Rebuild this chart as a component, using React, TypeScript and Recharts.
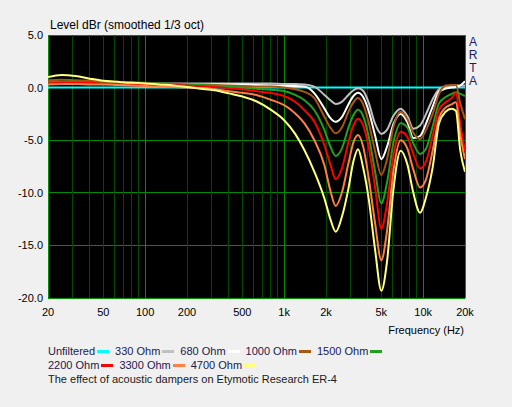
import { LineChart, Line, XAxis, YAxis, CartesianGrid, ReferenceLine } from "recharts";

// Smoothed 1/3 oct response, dBr relative to the unfiltered ER-4
const freqs = [
  20, 25, 31.5, 40, 50, 63, 80, 100, 125, 160, 200, 250, 315, 400, 500, 630, 800, 1000,
  1200, 1400, 1650, 1950, 2150, 2350, 2600, 2900, 3150, 3400, 3700, 4050, 4500, 5000,
  5500, 6100, 6900, 7700, 8500, 9500, 10500, 11700, 13000, 14500, 16000, 17200, 18500, 20000,
];

const unfiltered = [
  0, 0, 0, 0, 0, 0, 0, 0, 0, 0, 0, 0, 0, 0, 0, 0, 0, 0,
  0, 0, 0, 0, 0, 0, 0, 0, 0, 0, 0, 0, 0, 0,
  0, 0, 0, 0, 0, 0, 0, 0, 0, 0, 0, 0, 0, 0,
];

const ohm330 = [
  0.45, 0.45, 0.45, 0.45, 0.45, 0.45, 0.45, 0.4, 0.4, 0.4, 0.4, 0.4, 0.4, 0.4, 0.4, 0.4, 0.4, 0.35,
  0.35, 0.3, 0.1, -0.7, -1.2, -1.55, -1.35, -0.7, -0.25, -0.05, -0.3, -1.4, -3.4, -4.4,
  -4.0, -2.7, -2.0, -2.7, -3.9, -3.6, -2.5, -1.1, -0.15, 0.1, 0.15, 0.2, 0.2, 0.2,
];

const ohm680 = [
  0.45, 0.45, 0.45, 0.4, 0.4, 0.4, 0.4, 0.35, 0.35, 0.35, 0.3, 0.3, 0.3, 0.3, 0.3, 0.25, 0.2, 0.15,
  0.15, 0.1, -0.55, -2.0, -2.9, -3.25, -2.8, -1.6, -0.8, -0.5, -0.9, -2.2, -4.5, -6.8,
  -5.6, -3.5, -2.5, -3.3, -4.8, -4.6, -3.4, -1.8, -0.4, -0.1, 0.0, 0.05, 0.2, 0.6,
];

const ohm1000 = [
  0.7, 0.75, 0.7, 0.65, 0.6, 0.55, 0.5, 0.45, 0.4, 0.35, 0.3, 0.3, 0.25, 0.2, 0.15, 0.1, 0.1, 0.0,
  -0.15, -0.4, -1.0, -2.8, -3.8, -4.35, -3.8, -2.3, -1.4, -1.0, -1.6, -3.3, -6.0, -8.3,
  -6.8, -3.8, -2.3, -3.0, -4.3, -4.9, -4.0, -2.5, -0.6, 0.2, 0.25, 0.25, -1.5, -3.0,
];

const ohm1500 = [
  0.5, 0.55, 0.55, 0.5, 0.5, 0.45, 0.45, 0.4, 0.4, 0.35, 0.3, 0.25, 0.2, 0.1, 0.0, -0.1, -0.2, -0.33,
  -0.7, -1.2, -2.15, -4.05, -5.6, -6.5, -5.8, -3.8, -2.6, -2.1, -2.7, -4.6, -7.9, -11.0,
  -9.0, -5.3, -3.4, -3.8, -5.3, -6.3, -5.8, -3.7, -1.5, -0.9, -0.6, -0.45, -0.6, -0.8,
];

const ohm2200 = [
  0.4, 0.45, 0.45, 0.45, 0.4, 0.4, 0.35, 0.35, 0.3, 0.25, 0.2, 0.15, 0.05, -0.05, -0.15, -0.35, -0.5, -0.8,
  -1.35, -2.15, -3.25, -5.5, -7.3, -8.7, -7.7, -5.2, -3.6, -2.95, -3.6, -5.6, -9.4, -13.4,
  -11.0, -6.5, -4.2, -4.7, -6.3, -7.7, -7.0, -4.6, -2.1, -1.4, -1.0, -0.5, -3.5, -6.0,
];

const ohm3300 = [
  0.3, 0.35, 0.35, 0.3, 0.3, 0.25, 0.2, 0.15, 0.1, 0.05, 0.0, -0.05, -0.15, -0.35, -0.5, -0.7, -1.15, -1.67,
  -2.45, -3.4, -5.0, -7.4, -9.8, -11.25, -10.0, -7.2, -5.2, -4.5, -5.6, -8.5, -12.8, -16.4,
  -13.6, -8.0, -5.0, -5.8, -7.8, -9.5, -8.7, -6.0, -2.9, -1.9, -1.6, -1.4, -4.5, -6.8,
];

const ohm4700 = [
  1.0, 1.2, 1.1, 0.85, 0.65, 0.55, 0.45, 0.4, 0.3, 0.2, 0.05, -0.1, -0.25, -0.55, -0.85, -1.3, -2.1, -3.1,
  -4.4, -5.95, -8.0, -10.55, -12.5, -13.7, -12.3, -9.6, -7.0, -5.85, -7.6, -10.5, -15.3, -19.3,
  -16.5, -9.8, -6.0, -7.3, -10.0, -11.9, -10.4, -7.6, -3.4, -2.3, -2.0, -2.2, -6.0, -8.0,
];

const seriesNames = ["Unfiltered", "330 Ohm", "680 Ohm", "1000 Ohm", "1500 Ohm", "2200 Ohm", "3300 Ohm", "4700 Ohm"];
const seriesValues = [unfiltered, ohm330, ohm680, ohm1000, ohm1500, ohm2200, ohm3300, ohm4700];
const seriesColors = ["#00ffff", "#c0c0c0", "#ffffff", "#aa5511", "#22a022", "#ff0000", "#ff7f45", "#ffff80"];

const xTicks = [20, 50, 100, 200, 500, 1000, 2000, 5000, 10000, 20000];
const yTicks = [-20, -15, -10, -5, 0, 5];
const gridFreqs = [
  20, 30, 40, 50, 60, 70, 80, 90, 100, 200, 300, 400, 500, 600, 700, 800, 900, 1000,
  2000, 3000, 4000, 5000, 6000, 7000, 8000, 9000, 10000, 20000,
];

const font = "'Liberation Sans', Arial, sans-serif";
const fmtFreq = (f: number) => (f >= 1000 ? `${f / 1000}k` : `${f}`);

const isBright = (f: number) => f === 20 || f === 100 || f === 1000 || f === 10000 || f === 20000;

export default function App() {
  const data = freqs.map((f, i) => {
    const row: Record<string, number> = { f };
    seriesValues.forEach((vals, k) => {
      row[`s${k}`] = vals[i];
    });
    return row;
  });

  const legendItem = (k: number) => (
    <span key={k} style={{ display: "inline-flex", alignItems: "center", marginRight: 6 }}>
      {seriesNames[k]}
      <span style={{ display: "inline-block", width: 12, height: 3, marginLeft: 2, background: seriesColors[k] }} />
    </span>
  );

  return (
    <div style={{ position: "absolute", left: 0, top: 0, width: 512, height: 407, background: "#f0f0f0", fontFamily: font }}>
      <LineChart width={512} height={407} data={data} margin={{ top: 35, right: 47, bottom: 79, left: 0 }}>
        <CartesianGrid
          fill="#000"
          fillOpacity={1}
          vertical={false}
          stroke="#008c00"
          strokeOpacity={1}
          shapeRendering="crispEdges"
        />
        {gridFreqs.map(f => (
          <ReferenceLine
            key={f}
            x={f}
            stroke={isBright(f) ? "#009000" : "#004a00"}
            strokeWidth={1}
            shapeRendering="crispEdges"
          />
        ))}
        <XAxis
          dataKey="f"
          type="number"
          scale="log"
          domain={[20, 20000]}
          ticks={xTicks}
          tickFormatter={fmtFreq}
          axisLine={false}
          tickLine={false}
          tickSize={0}
          tickMargin={10}
          height={30}
          allowDataOverflow
          tick={{ fill: "#000", fontSize: 11, fontFamily: font }}
        />
        <YAxis
          type="number"
          domain={[-20, 5]}
          ticks={yTicks}
          tickFormatter={(v: number) => v.toFixed(1)}
          axisLine={false}
          tickLine={false}
          tickSize={0}
          tickMargin={5}
          width={48}
          allowDataOverflow
          tick={{ fill: "#000", fontSize: 11, fontFamily: font }}
        />
        {seriesValues.map((_, k) => (
          <Line
            key={k}
            dataKey={`s${k}`}
            type="monotone"
            stroke={seriesColors[k]}
            strokeWidth={2}
            dot={false}
            isAnimationActive={false}
          />
        ))}
      </LineChart>

      <div style={{ position: "absolute", left: 50, top: 18, fontSize: 12, lineHeight: "14px", color: "#000" }}>
        Level dBr (smoothed 1/3 oct)
      </div>

      <div style={{ position: "absolute", left: 467, top: 36, width: 12, textAlign: "center", fontSize: 12, lineHeight: "13px", color: "#1a1a6a" }}>
        {"ARTA".split("").map((c, i) => (
          <div key={i}>{c}</div>
        ))}
      </div>

      <div style={{ position: "absolute", right: 48, top: 323, fontSize: 11, lineHeight: "14px", color: "#000" }}>
        Frequency (Hz)
      </div>

      <div style={{ position: "absolute", left: 48, top: 344, fontSize: 11, lineHeight: "14px", color: "#202050", whiteSpace: "nowrap" }}>
        <div>{[0, 1, 2, 3, 4].map(legendItem)}</div>
        <div>{[5, 6, 7].map(legendItem)}</div>
        <div style={{ color: "#202020" }}>The effect of acoustic dampers on Etymotic Research ER-4</div>
      </div>
    </div>
  );
}
